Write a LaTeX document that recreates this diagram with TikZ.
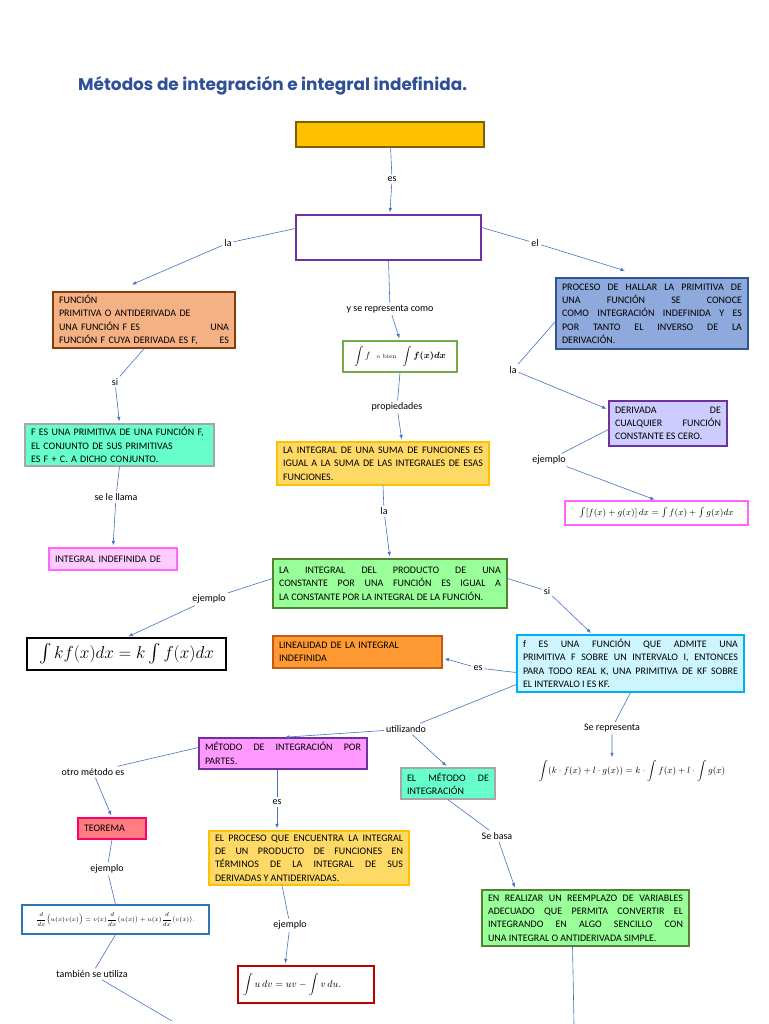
\documentclass[tikz,border=0pt]{standalone}
\usepackage{amsmath,amsfonts}
\usepackage{fontspec}
\newfontfamily\calibri{Carlito}
\newfontfamily\titlefont{Poppins}
\usetikzlibrary{arrows.meta, positioning, calc}

\definecolor{linkblue}{HTML}{4472C4}
\definecolor{ctitle}{HTML}{2F4F96}
\definecolor{cgold}{HTML}{FFC000}
\definecolor{cgoldd}{HTML}{7F6000}
\definecolor{cpurple}{HTML}{7030A0}
\definecolor{cproc}{HTML}{8EA9DB}
\definecolor{cprocd}{HTML}{2F5597}
\definecolor{cfunc}{HTML}{F4B183}
\definecolor{cfuncd}{HTML}{843C0C}
\definecolor{cmint}{HTML}{66FFCC}
\definecolor{cgrey}{HTML}{A6A6A6}
\definecolor{cpinkl}{HTML}{FFCCFF}
\definecolor{cpink}{HTML}{FF66FF}
\definecolor{cgreenb}{HTML}{70AD47}
\definecolor{cyel}{HTML}{FFD966}
\definecolor{clgreen}{HTML}{99FF99}
\definecolor{cgreend}{HTML}{548235}
\definecolor{corange}{HTML}{FF9933}
\definecolor{corangd}{HTML}{C55A11}
\definecolor{csky}{HTML}{CCF5FF}
\definecolor{cskyd}{HTML}{00B0F0}
\definecolor{clav}{HTML}{CCCCFF}
\definecolor{cmag}{HTML}{FF99FF}
\definecolor{csalmon}{HTML}{FF7C80}
\definecolor{cred}{HTML}{FF0066}
\definecolor{cblued}{HTML}{2E75B6}
\definecolor{cdarkred}{HTML}{C00000}

\begin{document}
\begin{tikzpicture}[x=1pt,y=-1pt,
    box/.style={draw, line width=1.3pt, inner xsep=6pt, inner ysep=3pt, align=justify,
      font=\calibri\fontsize{10}{13.3}\selectfont},
    fbox/.style={draw, line width=1.3pt, inner sep=2pt, fill=white},
    lbl/.style={inner sep=2pt, font=\calibri\fontsize{10}{12}\selectfont},
    link/.style={draw=linkblue, line width=0.6pt},
    arr/.style={link, -{Latex[length=4.5pt,width=3.5pt]}, shorten >=2pt}]
    \useasboundingbox (0,0) rectangle (768,1024);
    \node[anchor=west, inner sep=0pt, text=ctitle, font=\titlefont\bfseries\fontsize{16.9}{20}\selectfont] (title) at (78,86) {Métodos de integración e integral indefinida.};
    %
    \node[box, fill=cgold, draw=cgoldd, text width=176pt, minimum height=25pt] (top) at (390,134.5) {};
    \node[box, fill=white, draw=cpurple, text width=173pt, minimum height=45pt] (purple) at (388.5,237.5) {};
    \node[box, fill=cproc, draw=cprocd, text width=180pt, minimum height=71pt] (proc) at (652,313.5)
      {PROCESO DE HALLAR LA PRIMITIVA DE\linebreak UNA FUNCIÓN SE CONOCE\linebreak COMO INTEGRACIÓN INDEFINIDA Y ES\linebreak POR TANTO EL INVERSO DE LA\linebreak DERIVACIÓN.};
    \node[box, align=left, fill=cfunc, draw=cfuncd, text width=170pt, minimum height=56pt] (func) at (144,320)
      {FUNCIÓN\\PRIMITIVA O ANTIDERIVADA DE\\UNA FUNCIÓN F ES\hfill UNA\\FUNCIÓN F CUYA DERIVADA ES F,\hfill ES};
    \node[box, align=left, fill=cmint, draw=cgrey, text width=177pt, minimum height=42pt] (prim) at (119.5,445)
      {F ES UNA PRIMITIVA DE UNA FUNCIÓN F,\\EL CONJUNTO DE SUS PRIMITIVAS\\ES F + C. A DICHO CONJUNTO.};
    \node[box, align=left, fill=cpinkl, draw=cpink, text width=116pt, minimum height=22pt] (indef) at (113,559)
      {INTEGRAL INDEFINIDA DE};
    \node[fbox, draw=cgreenb, minimum width=114pt, minimum height=31pt, font=\fontsize{9}{10}\selectfont] (repr) at (400,356.5)
      {$\displaystyle\int f$ \ {\fontsize{6}{7}\selectfont o bien}\ \ $\displaystyle\int \boldsymbol{f(x)dx}$};
    \node[box, fill=cyel, draw=cgold, text width=200pt, minimum height=43pt] (suma) at (383,463.5)
      {LA INTEGRAL DE UNA SUMA DE FUNCIONES ES\linebreak IGUAL A LA SUMA DE LAS INTEGRALES DE ESAS\linebreak FUNCIONES.};
    \node[box, fill=clgreen, draw=cgreend, text width=222pt, minimum height=49pt] (prod) at (390,583.5)
      {LA INTEGRAL DEL PRODUCTO DE UNA\linebreak CONSTANTE POR UNA FUNCIÓN ES IGUAL A\linebreak LA CONSTANTE POR LA INTEGRAL DE LA FUNCIÓN.};
    \node[fbox, draw=black, minimum width=199pt, minimum height=32pt, font=\fontsize{18.5}{21}\selectfont] (kform) at (126.5,654)
      {$\int kf(x)dx = k\int f(x)dx$};
    \node[box, align=left, fill=corange, draw=corangd, text width=157pt, minimum height=32pt] (lineal) at (357.5,652)
      {LINEALIDAD DE LA INTEGRAL\\INDEFINIDA};
    \node[box, fill=csky, draw=cskyd, text width=215pt, minimum height=57pt] (fes) at (630.5,663.5)
      {f ES UNA FUNCIÓN QUE ADMITE UNA\linebreak PRIMITIVA F SOBRE UN INTERVALO I, ENTONCES\linebreak PARA TODO REAL K, UNA PRIMITIVA DE KF SOBRE\linebreak EL INTERVALO I ES KF.};
    \node[box, fill=clav, draw=cpurple, text width=106pt, minimum height=45pt] (deriv) at (668,423.5)
      {DERIVADA DE\linebreak CUALQUIER FUNCIÓN\linebreak CONSTANTE ES CERO.};
    \node[fbox, draw=cpink, minimum width=183pt, minimum height=24pt, font=\fontsize{9.3}{11}\selectfont] (sumform) at (656.5,513)
      {$\int [f(x)+g(x)]\,dx = \int f(x) + \int g(x)dx$};
    \node[inner sep=1pt, font=\fontsize{9.5}{11}\selectfont] (linform) at (632,771)
      {$\displaystyle\int (k\cdot f(x) + l\cdot g(x)) = k\cdot\int f(x) + l\cdot\int g(x)$};
    \node[box, fill=cmag, draw=cpurple, text width=156pt, minimum height=31pt] (partes) at (283,753.5)
      {MÉTODO DE INTEGRACIÓN POR\linebreak PARTES.};
    \node[box, align=left, fill=csalmon, draw=cred, text width=56pt, minimum height=21pt] (teorema) at (112,828.5)
      {TEOREMA};
    \node[fbox, draw=cblued, minimum width=187pt, minimum height=29pt, font=\fontsize{6}{8}\selectfont] (dform) at (115.5,919.5)
      {$\displaystyle\frac{d}{dx}\Bigl(u(x)v(x)\Bigr) = v(x)\frac{d}{dx}\bigl(u(x)\bigr) + u(x)\frac{d}{dx}\bigl(v(x)\bigr).$};
    \node[box, fill=cyel, draw=cgold, text width=188pt, minimum height=54pt] (proceso) at (309,858)
      {EL PROCESO QUE ENCUENTRA LA INTEGRAL\linebreak DE UN PRODUCTO DE FUNCIONES EN\linebreak TÉRMINOS DE LA INTEGRAL DE SUS\linebreak DERIVADAS Y ANTIDERIVADAS.};
    \node[fbox, draw=cdarkred, align=left, inner xsep=5pt, text width=126pt, minimum height=37pt, font=\fontsize{10}{12}\selectfont] (uvform) at (306,984.5)
      {$\displaystyle\int u\,dv = uv - \int v\,du.$};
    \node[box, fill=cmint, draw=cgrey, text width=82pt, minimum height=31pt] (metodo) at (448,783.5)
      {EL MÉTODO DE\linebreak INTEGRACIÓN};
    \node[box, fill=clgreen, draw=cgreend, text width=195pt, minimum height=56pt] (reemp) at (585.5,918)
      {EN REALIZAR UN REEMPLAZO DE VARIABLES\linebreak ADECUADO QUE PERMITA CONVERTIR EL\linebreak INTEGRANDO EN ALGO SENCILLO CON\linebreak UNA INTEGRAL O ANTIDERIVADA SIMPLE.};
    %
    \foreach \nm/\x/\y/\txt in {es1/392/179/es, la1/228/243/la, el1/535/243/el,
        yse/390/309/y se representa como, si1/115/382/si, sell/116/497/se le llama,
        prop/397/407/propiedades, la2/384/511/la, la3/513/370/la, ej1/549/460/ejemplo,
        ej2/209/599/ejemplo, si2/547/591/si, es2/478/668/es, util/406/729/utilizando,
        srep/612/728/Se representa, otro/93/772/otro método es, es3/277/802/es,
        ej3/107/869/ejemplo, tamb/92/974/también se utiliza, ej4/290/925/ejemplo,
        sbasa/497/836/Se basa}
    \node[lbl] (\nm) at (\x,\y) {\txt};
    \coordinate (endA) at (172,1021);
    \coordinate (endB) at (574,1024);
    %
    \draw[arr] (top) -- (es1) -- (purple);
    \draw[arr] ([yshift=9pt]purple.west) -- (la1) -- ([xshift=-14pt,yshift=6pt]func.north);
    \draw[arr] ([yshift=10pt]purple.east) -- (el1) -- ([xshift=-25pt,yshift=6pt]proc.north);
    \draw[arr] (purple.south) -- (yse) -- (repr.north);
    \draw[arr] (func.south) -- (si1) -- (prim.north);
    \draw[arr] (prim.south) -- (sell) -- (indef.north);
    \draw[arr] (repr.south) -- (prop) -- ([xshift=19pt]suma.north);
    \draw[arr] (suma.south) -- (la2) -- (prod.north);
    \draw[arr] ([yshift=-8pt]proc.west) -- (la3) -- ([yshift=14pt]deriv.west);
    \draw[arr] ([yshift=-6pt]deriv.west) -- (ej1) -- (sumform.north);
    %
    \draw[arr] ([yshift=5pt]prod.west) -- (ej2) -- (kform.north);
    \draw[arr] ([yshift=5pt]prod.east) -- (si2) -- ([xshift=-38pt]fes.north);
    \draw[arr] ([yshift=-9pt]fes.west) -- (es2) -- ([yshift=-6pt]lineal.east);
    \draw[arr] ([yshift=-21pt]fes.west) -- (util) -- (partes.north);
    \draw[arr] (util) -- (metodo.north);
    \draw[arr] (fes.south) -- (srep) -- ([xshift=-20pt]linform.north);
    %
    \draw[arr] ([yshift=6pt]partes.west) -- (otro) -- (teorema.north);
    \draw[arr] ([xshift=-6pt]partes.south) -- (es3) -- ([xshift=-32pt]proceso.north);
    \draw[link] (teorema.south) -- (ej3) -- (dform.north);
    \draw[link] (dform.south) -- (tamb) -- (endA);
    \draw[arr] ([xshift=-27pt]proceso.south) -- (ej4) -- ([xshift=-21pt]uvform.north);
    \draw[arr] (metodo.south) -- (sbasa) -- ([xshift=-70pt]reemp.north);
    \draw[link] ([xshift=-13pt]reemp.south) -- (endB);
\end{tikzpicture}
\end{document}
